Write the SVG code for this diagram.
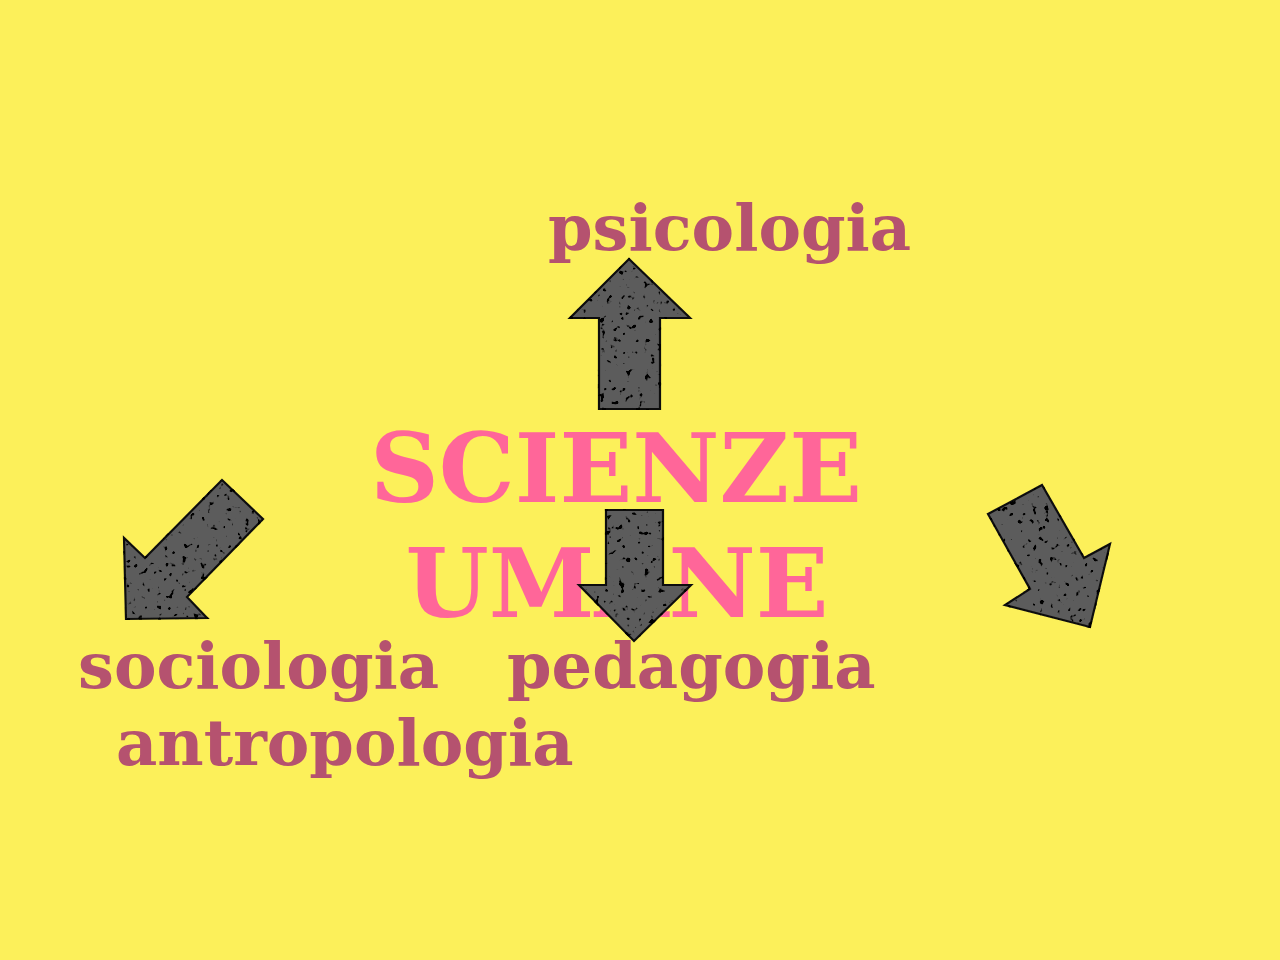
<svg xmlns="http://www.w3.org/2000/svg" width="1280" height="960" viewBox="0 0 1280 960">
<defs>
<style>
.lbl{font-family:"DejaVu Serif","Liberation Serif",serif;font-weight:bold;fill:#B5526F;font-size:63.8px}
.title{font-family:"DejaVu Serif","Liberation Serif",serif;font-weight:bold;fill:#FF6699;font-size:95.5px;text-anchor:middle}
.arrow{fill:#5C5C5C;stroke:#111;stroke-width:2.2;stroke-linejoin:miter;filter:url(#tex)}
</style>
<filter id="tex" x="-5%" y="-5%" width="110%" height="110%">
<feTurbulence type="fractalNoise" baseFrequency="0.16" numOctaves="2" seed="4" result="n"/>
<feColorMatrix in="n" type="matrix" values="0 0 0 0 0  0 0 0 0 0  0 0 0 0 0  -12 0 0 0 4.3" result="spk"/>
<feComposite in="spk" in2="SourceGraphic" operator="in" result="s"/>
<feMerge><feMergeNode in="SourceGraphic"/><feMergeNode in="s"/></feMerge>
</filter>
</defs>
<rect width="1280" height="960" fill="#FCF05A"/>
<g id="center">
<text class="title" x="616" y="502">SCIENZE</text>
<text class="title" x="617" y="617">UMANE</text>
</g>
<g id="connectors">
<polygon class="arrow" points="629,259 690,318 660,318 660,409 599,409 599,318 570,318"/>
<polygon class="arrow" points="606,510 663,510 663,585 691,585 634,641 579,585 606,585"/>
<polygon class="arrow" points="126,619 124,538 145,558 222,480 263,519 187,597 207,618"/>
<polygon class="arrow" points="988,514 1042,485 1084,558 1110,544 1090,627 1005,605 1030,589"/>
</g>
<g id="psicologia"><text class="lbl" x="548" y="250">psicologia</text></g>
<g id="sociologia"><text class="lbl" x="78" y="688">sociologia</text></g>
<g id="pedagogia"><text class="lbl" x="507" y="688">pedagogia</text></g>
<g id="antropologia"><text class="lbl" x="116" y="765">antropologia</text></g>
</svg>
